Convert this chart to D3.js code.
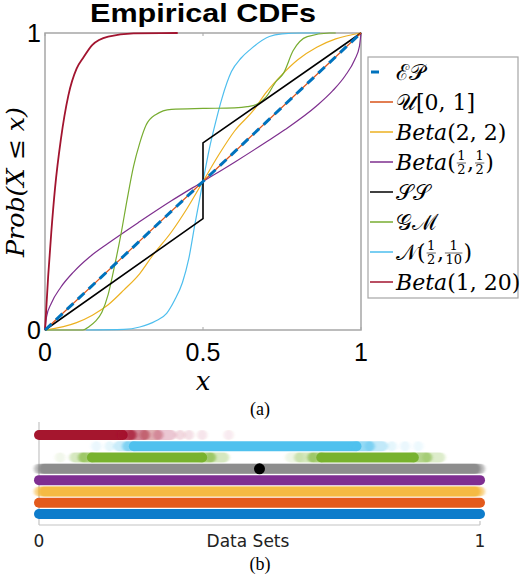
<!DOCTYPE html>
<html>
<head>
<meta charset="utf-8">
<script src="https://cdn.jsdelivr.net/npm/d3@7/dist/d3.min.js"></script>
<style>
  body { margin: 0; background: #fff; }
  .serif { font-family: "DejaVu Serif", serif; }
  .times { font-family: "Liberation Serif", serif; }
  .sans { font-family: "Liberation Sans", Arial, sans-serif; }
  .djv { font-family: "DejaVu Sans", sans-serif; }
</style>
</head>
<body>
<div id="chart-area"></div>
<script>
// series, in legend order
var seriesKeys = ["EP", "U", "B22", "Bhalf", "SS", "GM", "N", "B120"];
var seriesLabels = ["ℰ𝒫", "𝒰[0, 1]", "Beta(2, 2)", "Beta(1/2, 1/2)", "𝒮𝒮", "𝒢ℳ", "𝒩(1/2, 1/10)", "Beta(1, 20)"];
var lineColors = ["#0072BD", "#D95319", "#EDB120", "#7E2F8E", "#000000", "#77AC30", "#4DBEEE", "#A2142F"];
var stripColors = ["#0C7BCB", "#E35A1E", "#F4B32E", "#7F2F91", "#7c7c7c", "#78B22E", "#4FC1EE", "#A5162F"];

var xTicks = [0, 0.5, 1];
var xTickLabels = ["0", "0.5", "1"];
var yTicks = [0, 1];
var yTickLabels = ["0", "1"];

// (a) empirical CDF points [x, Prob(X <= x)]
var cdfEP = [[0, 0], [0.25, 0.25], [0.5, 0.5], [0.75, 0.75], [1, 1]];
var cdfU = [[0, 0], [0.5, 0.5], [1, 1]];
var cdfB22 = [[0, 0], [0.1, 0.025], [0.15, 0.05], [0.2, 0.085], [0.25, 0.135], [0.3, 0.19], [0.34, 0.25], [0.4, 0.33],
  [0.45, 0.41], [0.5, 0.5], [0.55, 0.59], [0.6, 0.67], [0.66, 0.74], [0.7, 0.8], [0.75, 0.86], [0.8, 0.91],
  [0.86, 0.952], [0.92, 0.98], [1, 1]];
var cdfBhalf = [[0, 0], [0.005, 0.045], [0.02, 0.09], [0.05, 0.144], [0.09, 0.195], [0.14, 0.245], [0.2, 0.292],
  [0.3, 0.365], [0.4, 0.435], [0.5, 0.5], [0.6, 0.565], [0.7, 0.633], [0.76, 0.675], [0.86, 0.755], [0.91, 0.805],
  [0.95, 0.856], [0.98, 0.91], [0.995, 0.955], [1, 1]];
var cdfSS = [[0, 0], [0.5, 0.375], [0.5, 0.63], [1, 1]];
var cdfGM = [[0, 0], [0.12, 0], [0.14, 0.012], [0.16, 0.03], [0.18, 0.06], [0.2, 0.12], [0.22, 0.215], [0.24, 0.32],
  [0.26, 0.44], [0.28, 0.55], [0.3, 0.63], [0.32, 0.69], [0.35, 0.725], [0.4, 0.743], [0.5, 0.746], [0.6, 0.748],
  [0.64, 0.752], [0.67, 0.76], [0.7, 0.785], [0.73, 0.835], [0.755, 0.865], [0.785, 0.94], [0.83, 0.988],
  [0.9, 1], [0.92, 1]];
var cdfN = [[0.13, 0], [0.25, 0.002], [0.3, 0.01], [0.35, 0.03], [0.385, 0.056], [0.41, 0.1], [0.435, 0.16],
  [0.455, 0.24], [0.475, 0.36], [0.5, 0.5], [0.52, 0.61], [0.54, 0.7], [0.56, 0.78], [0.59, 0.87], [0.62, 0.915],
  [0.65, 0.945], [0.71, 0.988], [0.75, 0.997], [0.81, 1], [0.87, 1]];
var cdfB120 = [[0, 0], [0.01, 0.18], [0.02, 0.33], [0.032, 0.48], [0.05, 0.64], [0.074, 0.79], [0.1, 0.88],
  [0.12, 0.915], [0.15, 0.96], [0.2, 0.988], [0.28, 0.999], [0.42, 1]];
var cdfData = [cdfEP, cdfU, cdfB22, cdfBhalf, cdfSS, cdfGM, cdfN, cdfB120];

// (b) data set strips: runs of samples [from, to, opacity]
var runsEP = [[0, 1, 1]];
var runsU = [[0, 1, 1]];
var runsB22 = [[0, 1, 0.55], [0.01, 0.99, 0.8]];
var runsBhalf = [[0, 1, 1]];
var runsSS = [[0, 1, 0.5], [0.01, 0.99, 0.75]];
var runsGM = [[0.048, 0.048, 0.1], [0.08, 0.1, 0.3], [0.1, 0.12, 0.6], [0.12, 0.37, 1], [0.37, 0.39, 0.6],
  [0.39, 0.42, 0.3], [0.57, 0.59, 0.12], [0.59, 0.62, 0.3], [0.62, 0.64, 0.6], [0.64, 0.85, 1],
  [0.85, 0.88, 0.55], [0.88, 0.91, 0.25]];
var runsN = [[0.13, 0.13, 0.12], [0.16, 0.16, 0.15], [0.18, 0.2, 0.3], [0.2, 0.215, 0.6], [0.215, 0.72, 1],
  [0.72, 0.75, 0.6], [0.75, 0.78, 0.35], [0.8, 0.8, 0.15], [0.83, 0.83, 0.12], [0.86, 0.86, 0.1]];
var runsB120 = [[0, 0.19, 1], [0.19, 0.21, 0.75], [0.21, 0.24, 0.5], [0.24, 0.27, 0.35], [0.27, 0.3, 0.22],
  [0.32, 0.32, 0.15], [0.34, 0.34, 0.12], [0.37, 0.37, 0.1], [0.43, 0.43, 0.08]];
var stripRuns = [runsEP, runsU, runsB22, runsBhalf, runsSS, runsGM, runsN, runsB120];
var medianPoint = 0.5;   // black marker on the SS strip
var stripTicks = [0, 1];

var svg = d3.select("#chart-area")
    .append("svg")
    .attr("width", 520)
    .attr("height", 576);

// ---------- (a) CDF panel ----------
var x = d3.scaleLinear().domain([0, 1]).range([45, 361]);
var y = d3.scaleLinear().domain([0, 1]).range([330, 33]);

svg.append("text")
    .attr("class", "sans")
    .attr("x", 203)
    .attr("y", 22)
    .attr("text-anchor", "middle")
    .attr("font-weight", "bold")
    .attr("font-size", 25)
    .attr("textLength", 226)
    .attr("lengthAdjust", "spacingAndGlyphs")
    .text("Empirical CDFs");

var plot = svg.append("g");

plot.append("rect")
    .attr("x", x(0))
    .attr("y", y(1))
    .attr("width", x(1) - x(0))
    .attr("height", y(0) - y(1))
    .attr("fill", "#fff")
    .attr("stroke", "#a6a6a6")
    .attr("stroke-width", 1.5);

// small inward ticks on the box
xTicks.forEach(function(t) {
    plot.append("line").attr("x1", x(t)).attr("x2", x(t)).attr("y1", y(0)).attr("y2", y(0) - 3)
        .attr("stroke", "#a6a6a6");
    plot.append("line").attr("x1", x(t)).attr("x2", x(t)).attr("y1", y(1)).attr("y2", y(1) + 3)
        .attr("stroke", "#a6a6a6");
});

var smooth = d3.line()
    .x(function(d) { return x(d[0]); })
    .y(function(d) { return y(d[1]); })
    .curve(d3.curveMonotoneX);
var straight = d3.line()
    .x(function(d) { return x(d[0]); })
    .y(function(d) { return y(d[1]); });

// draw order: thin curves first, then the dashed EP on top
var drawOrder = [3, 2, 6, 5, 4, 7, 1, 0];
drawOrder.forEach(function(i) {
    var key = seriesKeys[i];
    plot.append("path")
        .datum(cdfData[i])
        .attr("fill", "none")
        .attr("stroke", lineColors[i])
        .attr("stroke-width", key == "EP" ? 3 : (key == "SS" ? 1.6 : (key == "B120" ? 1.8 : 1.2)))
        .attr("stroke-dasharray", key == "EP" ? "9,6" : null)
        .attr("d", key == "SS" || key == "U" || key == "EP" ? straight : smooth);
});

// tick labels
svg.selectAll(".xtick")
    .data(xTicks)
    .enter().append("text")
    .attr("class", "xtick sans")
    .attr("x", function(d) { return x(d); })
    .attr("y", 361)
    .attr("text-anchor", "middle")
    .attr("font-size", 25)
    .text(function(d, i) { return xTickLabels[i]; });

svg.selectAll(".ytick")
    .data(yTicks)
    .enter().append("text")
    .attr("class", "ytick sans")
    .attr("x", 41)
    .attr("y", function(d) { return y(d) + 9; })
    .attr("text-anchor", "end")
    .attr("font-size", 25)
    .text(function(d, i) { return yTickLabels[i]; });

// axis labels
svg.append("text")
    .attr("class", "serif")
    .attr("x", 203)
    .attr("y", 390)
    .attr("text-anchor", "middle")
    .attr("font-style", "italic")
    .attr("font-size", 26)
    .text("x");

svg.append("text")
    .attr("class", "serif")
    .attr("transform", "translate(24,182) rotate(-90)")
    .attr("text-anchor", "middle")
    .attr("font-style", "italic")
    .attr("font-size", 24)
    .attr("textLength", 150)
    .attr("lengthAdjust", "spacingAndGlyphs")
    .text("Prob(X ≤ x)");

// legend
var legend = svg.append("g");
legend.append("rect")
    .attr("x", 368)
    .attr("y", 57)
    .attr("width", 150)
    .attr("height", 241)
    .attr("fill", "#fff")
    .attr("stroke", "#a6a6a6")
    .attr("stroke-width", 1.2);

function drawLabel(g, label, x0, yc) {
    var cx = x0;
    var parts = label.split(/(Beta|\d+\/\d+)/).filter(function(s) { return s.length > 0; });
    parts.forEach(function(p) {
        if (/^\d+\/\d+$/.test(p)) {
            var nd = p.split("/");
            var num = g.append("text").attr("class", "serif").attr("font-size", 13)
                .attr("text-anchor", "middle").text(nd[0]);
            var den = g.append("text").attr("class", "serif").attr("font-size", 13)
                .attr("text-anchor", "middle").text(nd[1]);
            var w = Math.max(num.node().getComputedTextLength(), den.node().getComputedTextLength()) + 3;
            num.attr("x", cx + w / 2).attr("y", yc - 2);
            den.attr("x", cx + w / 2).attr("y", yc + 12);
            g.append("line").attr("x1", cx + 1).attr("x2", cx + w - 1)
                .attr("y1", yc + 1).attr("y2", yc + 1)
                .attr("stroke", "#000").attr("stroke-width", 0.6);
            cx += w;
        } else {
            var t = g.append("text")
                .attr("class", "serif")
                .attr("x", cx)
                .attr("y", yc + 8)
                .attr("font-size", 22)
                .attr("font-style", p == "Beta" ? "italic" : "normal")
                .text(p);
            cx += t.node().getComputedTextLength();
        }
    });
}

seriesKeys.forEach(function(key, i) {
    var yc = 72 + 30 * i;
    legend.append("line")
        .attr("x1", key == "EP" ? 371 : 370)
        .attr("x2", key == "EP" ? 379 : 393)
        .attr("y1", yc)
        .attr("y2", yc)
        .attr("stroke", lineColors[i])
        .attr("stroke-width", key == "EP" ? 3 : 1.5);
    drawLabel(legend, seriesLabels[i], 396, yc);
});

svg.append("text")
    .attr("class", "times")
    .attr("x", 260)
    .attr("y", 415)
    .attr("text-anchor", "middle")
    .attr("font-size", 18)
    .text("(a)");

// ---------- (b) data set strips ----------
var xs = d3.scaleLinear().domain([0, 1]).range([39, 480]);
var ys = d3.scalePoint().domain(seriesKeys).range([514, 435]);

var defs = svg.append("defs");
defs.append("filter")
    .attr("id", "soft")
    .attr("filterUnits", "userSpaceOnUse")
    .attr("x", 0).attr("y", 400).attr("width", 520).attr("height", 140)
    .append("feGaussianBlur")
    .attr("stdDeviation", 0.6);
defs.append("filter")
    .attr("id", "fade")
    .attr("filterUnits", "userSpaceOnUse")
    .attr("x", 0).attr("y", 400).attr("width", 520).attr("height", 140)
    .append("feGaussianBlur")
    .attr("stdDeviation", "1.8 0.7");

var strips = svg.append("g");

strips.append("line")
    .attr("x1", xs(0)).attr("x2", xs(0))
    .attr("y1", 422).attr("y2", 525)
    .attr("stroke", "#c4c4c4").attr("stroke-width", 1.2);
strips.append("line")
    .attr("x1", xs(0)).attr("x2", xs(1))
    .attr("y1", 525).attr("y2", 525)
    .attr("stroke", "#c4c4c4").attr("stroke-width", 1.2);
strips.append("line")
    .attr("x1", xs(1)).attr("x2", xs(1))
    .attr("y1", 521).attr("y2", 525)
    .attr("stroke", "#c4c4c4").attr("stroke-width", 1.2);

seriesKeys.forEach(function(key, i) {
    strips.append("g").selectAll("line")
        .data(stripRuns[i])
        .enter().append("line")
        .attr("x1", function(d) { return xs(d[0]); })
        .attr("x2", function(d) { return xs(d[1]); })
        .attr("y1", ys(key))
        .attr("y2", ys(key))
        .attr("stroke", stripColors[i])
        .attr("stroke-opacity", function(d) { return d[2]; })
        .attr("stroke-width", 10)
        .attr("stroke-linecap", "round")
        .attr("filter", function(d) { return d[2] >= 1 ? "url(#soft)" : "url(#fade)"; });
});

strips.append("circle")
    .attr("cx", xs(medianPoint))
    .attr("cy", ys("SS"))
    .attr("r", 5.5)
    .attr("fill", "#000");

svg.selectAll(".stick")
    .data(stripTicks)
    .enter().append("text")
    .attr("class", "stick djv")
    .attr("x", function(d) { return xs(d); })
    .attr("y", 547)
    .attr("text-anchor", "middle")
    .attr("font-size", 17)
    .attr("fill", "#222")
    .text(function(d) { return d; });

svg.append("text")
    .attr("class", "djv")
    .attr("x", 248)
    .attr("y", 547)
    .attr("text-anchor", "middle")
    .attr("font-size", 17)
    .attr("fill", "#222")
    .text("Data Sets");

svg.append("text")
    .attr("class", "times")
    .attr("x", 260)
    .attr("y", 570)
    .attr("text-anchor", "middle")
    .attr("font-size", 18)
    .text("(b)");
</script>
</body>
</html>
